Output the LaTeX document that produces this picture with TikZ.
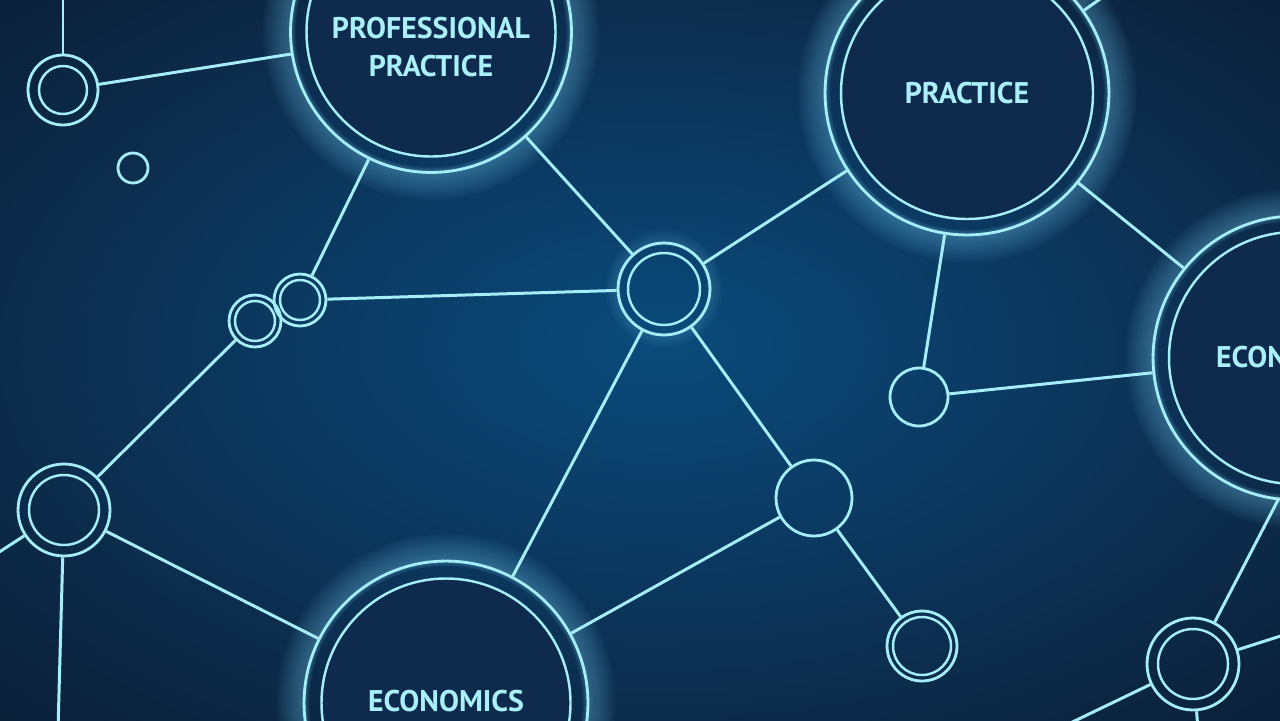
\documentclass[tikz,border=0pt]{standalone}
\usepackage{fontspec}
\setmainfont{PT Sans}
\usepackage{tikz}
\usetikzlibrary{positioning}
\usepackage{xcolor}

\definecolor{bgmid}{RGB}{10,74,122}
\definecolor{bgmidb}{RGB}{11,60,102}
\definecolor{bgout}{RGB}{12,44,76}
\definecolor{bgedge}{RGB}{10,31,56}
\definecolor{wire}{RGB}{165,238,248}
\definecolor{coreblue}{RGB}{14,42,76}
\definecolor{haloc}{RGB}{120,205,240}
\definecolor{tagcyan}{RGB}{170,240,250}

\pgfdeclareradialshading{backglow}{\pgfpoint{0.8bp}{1.2bp}}{color(0bp)=(bgmid); color(12bp)=(bgmidb); color(25bp)=(bgout); color(36bp)=(bgedge); color(50bp)=(bgedge)}
\pgfdeclarelayer{back}
\pgfdeclarelayer{wires}
\pgfsetlayers{back,wires,main}

\begin{document}
\begin{tikzpicture}[
    x=0.02cm, y=-0.02cm,
    ring/.style={circle, draw=wire, line width=1.6pt, minimum size=#1*0.04cm, inner sep=0pt},
    core/.style={draw=wire, line width=1.4pt},
    wireline/.style={draw=wire, line width=1.7pt},
    halo/.style={draw=haloc, opacity=0.04},
    tag/.style={text=tagcyan, font=\fontsize{17}{21.5}\selectfont\bfseries, align=center}
]
    \useasboundingbox (0,0) rectangle (1280,720);
    \clip (0,0) rectangle (1280,720);
    \begin{pgfonlayer}{back}
        \shade[shading=backglow] (0,0) rectangle (1280,720);
    \end{pgfonlayer}

    % Rings
    \foreach \n/\x/\y/\r in {a/63/90/35, b/133/168/15, pp/431/32/140.5, pr/967/93/142,
        er/1295/358/142, eb/446/703/142, m/664/289/46, c1/255/321/26, c2/300/300/26,
        d/64/510/46, n1/919/397/29, n2/814/498/38, n3/922/646/35, n4/1193/664/46} {
        \node[ring=\r] (\n) at (\x,\y) {};
    }
    \foreach \n/\r in {pp/124.5, pr/126, er/126, eb/124.5} {
        \draw[core, fill=coreblue] (\n.center) circle [radius=\r];
    }
    \foreach \n/\r in {a/24, m/36, c1/20, c2/20, d/35, n3/29, n4/35} {
        \draw[core] (\n.center) circle [radius=\r];
    }

    % Free ends at the border
    \coordinate (topA) at (63,-10);
    \coordinate (topPR) at (1110,-8);
    \coordinate (leftD) at (-10,558);
    \coordinate (downD) at (58,730);
    \coordinate (rimER) at (1279,498);
    \coordinate (rightN4) at (1290,633);
    \coordinate (leftN4) at (1062,727);
    \coordinate (downN4) at (1198,730);

    % Glow and links
    \begin{pgfonlayer}{wires}
        \foreach \n/\r in {pp/140.5, pr/142, er/142, eb/142} {
            \foreach \w in {3,6,...,33} {
                \draw[halo, line width=\w*0.02cm] (\n.center) circle [radius=\r+\w/3];
            }
        }
        \foreach \w in {3,6,...,15} {
            \draw[halo, line width=\w*0.02cm] (m.center) circle [radius=46+\w/3];
        }
        \foreach \s/\t in {a/pp, a/topA, pp/c2, pp/m, c2/m, c1/d, m/pr, pr/er, pr/n1,
            pr/topPR, er/n1, m/n2, m/eb, n2/eb, n2/n3, d/eb, d/leftD, d/downD,
            n4/rimER, n4/rightN4, n4/leftN4, n4/downN4} {
            \draw[wireline] (\s) -- (\t);
        }
    \end{pgfonlayer}

    % Labels
    \node[tag] (ppText) at (431,47) {PROFESSIONAL\\PRACTICE};
    \node[tag] (prText) at (967,93) {PRACTICE};
    \node[tag] (ebText) at (446,701) {ECONOMICS};
    \node[tag] (erText) at (1294,357) {ECONOMICS};
\end{tikzpicture}
\end{document}
